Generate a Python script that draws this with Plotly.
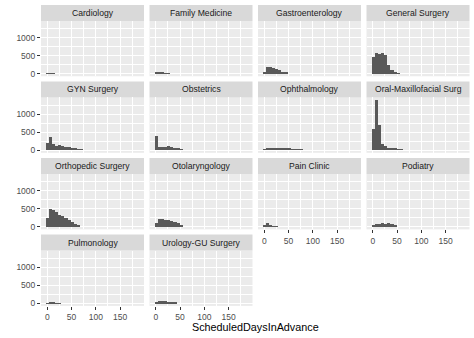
import numpy as np
import plotly.graph_objects as go

# Histogram of scheduled days in advance, one panel per specialty.
# Counts per bin (bins of equal width starting at day 0).
specialties = [
    "Cardiology", "Family Medicine", "Gastroenterology", "General Surgery",
    "GYN Surgery", "Obstetrics", "Ophthalmology", "Oral-Maxillofacial Surg",
    "Orthopedic Surgery", "Otolaryngology", "Pain Clinic", "Podiatry",
    "Pulmonology", "Urology-GU Surgery",
]

cardiology = [15, 20, 8]
family_medicine = [30, 28, 25, 20, 12]
gastroenterology = [60, 190, 200, 160, 140, 110, 60, 25]
general_surgery = [480, 570, 560, 590, 520, 250, 100, 40, 15]
gyn_surgery = [200, 360, 170, 120, 140, 110, 90, 70, 50, 30, 15, 5]
obstetrics = [380, 80, 70, 70, 100, 90, 50, 25, 10]
ophthalmology = [20, 30, 40, 35, 45, 50, 45, 40, 30, 20, 10, 5, 5]
oral_maxillofacial = [570, 1400, 690, 170, 110, 60, 40, 25, 12, 6]
orthopedic_surgery = [260, 500, 470, 400, 340, 290, 240, 190, 130, 70, 30]
otolaryngology = [100, 220, 210, 190, 195, 170, 140, 100, 50]
pain_clinic = [40, 120, 30, 15, 8]
podiatry = [40, 90, 70, 110, 90, 100, 70, 40]
pulmonology = [20, 25, 30, 20, 10]
urology_gu = [40, 75, 85, 80, 65, 50, 30]

series = [
    cardiology, family_medicine, gastroenterology, general_surgery,
    gyn_surgery, obstetrics, ophthalmology, oral_maxillofacial,
    orthopedic_surgery, otolaryngology, pain_clinic, podiatry,
    pulmonology, urology_gu,
]

n_bins = 30
bin_width = 6.43
x_ticks = [0, 50, 100, 150]
y_ticks = [0, 500, 1000]

W, H = 474, 338
ncol = 4
col_x0 = [41, 149.5, 258, 366.5]
panel_w = 103
row_top = [5, 82, 159, 236]
strip_h = 16
panel_h = 55.7

FONT = "Liberation Sans, Arial, Helvetica, sans-serif"
BAR = "#595959"
PANEL_BG = "#EBEBEB"
STRIP_BG = "#D9D9D9"

# shared scales (ggplot-style 5% expansion)
x_lo = -bin_width / 2
x_hi = (n_bins - 0.5) * bin_width
x_pad = 0.05 * (x_hi - x_lo)
x_range = [x_lo - x_pad, x_hi + x_pad]
y_max = max(max(s) for s in series)
y_range = [-0.05 * y_max, 1.05 * y_max]

n_panels = len(specialties)
# last panel in each column gets the x tick labels
bottom_in_col = {}
for i in range(n_panels):
    bottom_in_col[i % ncol] = i

fig = go.Figure()
shapes = []
annotations = []
layout_axes = {}

for i, (name, vals) in enumerate(zip(specialties, series)):
    r, c = divmod(i, ncol)
    k = i + 1
    xa = "x" if k == 1 else f"x{k}"
    ya = "y" if k == 1 else f"y{k}"
    centers = np.arange(len(vals)) * bin_width
    fig.add_trace(go.Bar(
        x=centers, y=vals, width=bin_width, marker=dict(color=BAR, line=dict(width=0)),
        xaxis=xa, yaxis=ya, showlegend=False, hoverinfo="x+y",
    ))

    x0 = col_x0[c]
    top = row_top[r] + strip_h
    bot = top + panel_h
    xdom = [x0 / W, (x0 + panel_w) / W]
    ydom = [1 - bot / H, 1 - top / H]

    show_x = bottom_in_col[c] == i
    show_y = c == 0

    layout_axes["xaxis" if k == 1 else f"xaxis{k}"] = dict(
        domain=xdom, anchor=ya, range=x_range, tickvals=x_ticks,
        showticklabels=show_x, ticks="outside" if show_x else "",
        ticklen=3, tickwidth=1, tickcolor="#333333",
        tickfont=dict(family=FONT, size=8.5, color="#4D4D4D"),
        showgrid=True, gridcolor="white", gridwidth=1.1, zeroline=False,
        showline=False,
        minor=dict(dtick=25, tick0=25, showgrid=True, gridcolor="white", gridwidth=0.55, ticks=""),
    )
    layout_axes["yaxis" if k == 1 else f"yaxis{k}"] = dict(
        domain=ydom, anchor=xa, range=y_range, tickvals=y_ticks,
        showticklabels=show_y, ticks="outside" if show_y else "",
        ticklen=3, tickwidth=1, tickcolor="#333333",
        tickfont=dict(family=FONT, size=8.5, color="#4D4D4D"),
        showgrid=True, gridcolor="white", gridwidth=1.1, zeroline=False,
        showline=False,
        minor=dict(dtick=250, tick0=250, showgrid=True, gridcolor="white", gridwidth=0.55, ticks=""),
    )

    # facet strip
    shapes.append(dict(
        type="rect", xref="paper", yref="paper", layer="below",
        x0=xdom[0], x1=xdom[1], y0=1 - top / H, y1=1 - row_top[r] / H,
        fillcolor=STRIP_BG, line=dict(width=0),
    ))
    annotations.append(dict(
        text=name, xref="paper", yref="paper", showarrow=False,
        x=(xdom[0] + xdom[1]) / 2, y=1 - (row_top[r] + strip_h / 2) / H,
        xanchor="center", yanchor="middle",
        font=dict(family=FONT, size=8.6, color="#1A1A1A"),
    ))

annotations.append(dict(
    text="ScheduledDaysInAdvance", xref="paper", yref="paper", showarrow=False,
    x=((col_x0[0] + col_x0[-1] + panel_w) / 2) / W, y=1 - 328.5 / H,
    xanchor="center", yanchor="middle",
    font=dict(family=FONT, size=10.8, color="black"),
))

fig.update_layout(
    width=W, height=H, autosize=False,
    margin=dict(l=0, r=0, t=0, b=0),
    paper_bgcolor="white", plot_bgcolor=PANEL_BG,
    bargap=0, shapes=shapes, annotations=annotations,
    **layout_axes,
)

fig.write_html("out.html")
